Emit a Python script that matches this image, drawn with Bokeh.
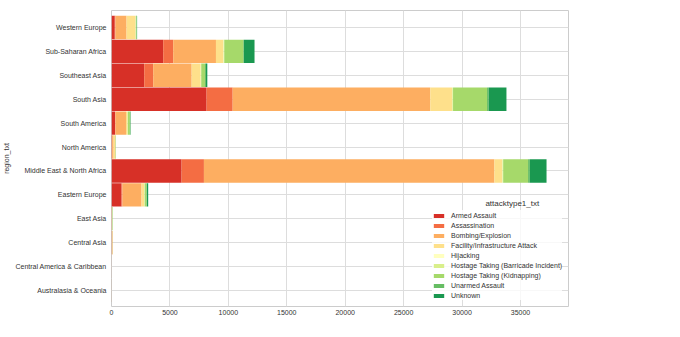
from bokeh.plotting import figure
from bokeh.models import ColumnDataSource, Range1d, FixedTicker, Legend, LegendItem, Label
from bokeh.embed import file_html
from bokeh.resources import INLINE

regions = ["Australasia & Oceania", "Central America & Caribbean", "Central Asia", "East Asia",
           "Eastern Europe", "Middle East & North Africa", "North America", "South America",
           "South Asia", "Southeast Asia", "Sub-Saharan Africa", "Western Europe"]

attack_types = ["Armed Assault", "Assassination", "Bombing/Explosion", "Facility/Infrastructure Attack",
                "Hijacking", "Hostage Taking (Barricade Incident)", "Hostage Taking (Kidnapping)",
                "Unarmed Assault", "Unknown"]

armed_assault = [5, 5, 15, 10, 860, 6000, 40, 300, 8140, 2800, 4425, 280]
assassination = [2, 2, 5, 5, 80, 1910, 10, 40, 2230, 770, 855, 60]
bombing = [5, 3, 70, 30, 1630, 24860, 130, 900, 16910, 3290, 3660, 950]
facility = [2, 1, 5, 20, 230, 660, 170, 130, 1860, 770, 630, 770]
hijacking = [0, 0, 0, 0, 20, 30, 0, 10, 30, 20, 30, 10]
barricade = [0, 0, 0, 5, 20, 60, 5, 20, 60, 30, 50, 20]
kidnapping = [1, 1, 5, 30, 160, 2130, 10, 170, 2910, 320, 1630, 50]
unarmed = [1, 0, 2, 5, 30, 150, 10, 50, 140, 80, 60, 30]
unknown = [0, 0, 2, 5, 110, 1430, 5, 20, 1520, 120, 900, 20]

x_ticks = [0, 5000, 10000, 15000, 20000, 25000, 30000, 35000]

colors = ["#d73027", "#f46d43", "#fdae61", "#fee08b", "#ffffbf",
          "#d9ef8b", "#a6d96a", "#66bd63", "#1a9850"]

series = [armed_assault, assassination, bombing, facility, hijacking,
          barricade, kidnapping, unarmed, unknown]

data = {"y": list(range(len(regions)))}
for t, s in zip(attack_types, series):
    data[t] = s
src = ColumnDataSource(data)

FONT = "Liberation Sans"
TXT = "#333333"

p = figure(width=680, height=337, output_backend="svg", toolbar_location=None,
           x_range=Range1d(0, 39110), y_range=Range1d(-0.67, 11.71),
           min_border_left=111, min_border_right=112, min_border_top=10, min_border_bottom=31)

renderers = p.hbar_stack(attack_types, y="y", height=0.98, source=src,
                         fill_color=colors, line_color=None)

p.background_fill_color = "white"
p.border_fill_color = "white"
p.outline_line_color = "#cccccc"
p.outline_line_width = 1

p.xgrid.grid_line_color = "#dddddd"
p.ygrid.grid_line_color = "#dddddd"
p.xaxis.ticker = FixedTicker(ticks=x_ticks)
p.yaxis.ticker = FixedTicker(ticks=list(range(len(regions))))
p.yaxis.major_label_overrides = {i: r for i, r in enumerate(regions)}

for ax in (p.xaxis[0], p.yaxis[0]):
    ax.axis_line_color = None
    ax.major_tick_line_color = None
    ax.minor_tick_line_color = None
    ax.major_tick_out = 0
    ax.major_tick_in = 0
    ax.minor_tick_out = 0
    ax.minor_tick_in = 0
    ax.major_label_text_font = FONT
    ax.major_label_text_font_size = "7px"
    ax.major_label_text_color = TXT
p.xaxis.major_label_standoff = 3
p.yaxis.major_label_standoff = 5
p.xaxis.formatter.use_scientific = False
p.yaxis.axis_label = "region_txt"
p.yaxis.axis_label_text_font = FONT
p.yaxis.axis_label_text_font_size = "7px"
p.yaxis.axis_label_text_font_style = "normal"
p.yaxis.axis_label_text_color = TXT
p.yaxis.axis_label_standoff = 2

items = [LegendItem(label=t, renderers=[r]) for t, r in zip(attack_types, renderers)]
legend = Legend(items=items, location=(321, 6), orientation="vertical",
                glyph_width=13, glyph_height=5, label_height=10, spacing=0,
                label_standoff=6, padding=3, margin=0,
                label_text_font=FONT, label_text_font_size="7px", label_text_color=TXT,
                background_fill_color="white", background_fill_alpha=0.8,
                border_line_color=None)
p.add_layout(legend, "center")

title = Label(x=34300, y=3.62, text="attacktype1_txt", text_align="center",
              text_baseline="middle", text_font=FONT, text_font_size="8px", text_color=TXT)
p.add_layout(title)

open("out.html", "w").write(file_html(p, INLINE))
